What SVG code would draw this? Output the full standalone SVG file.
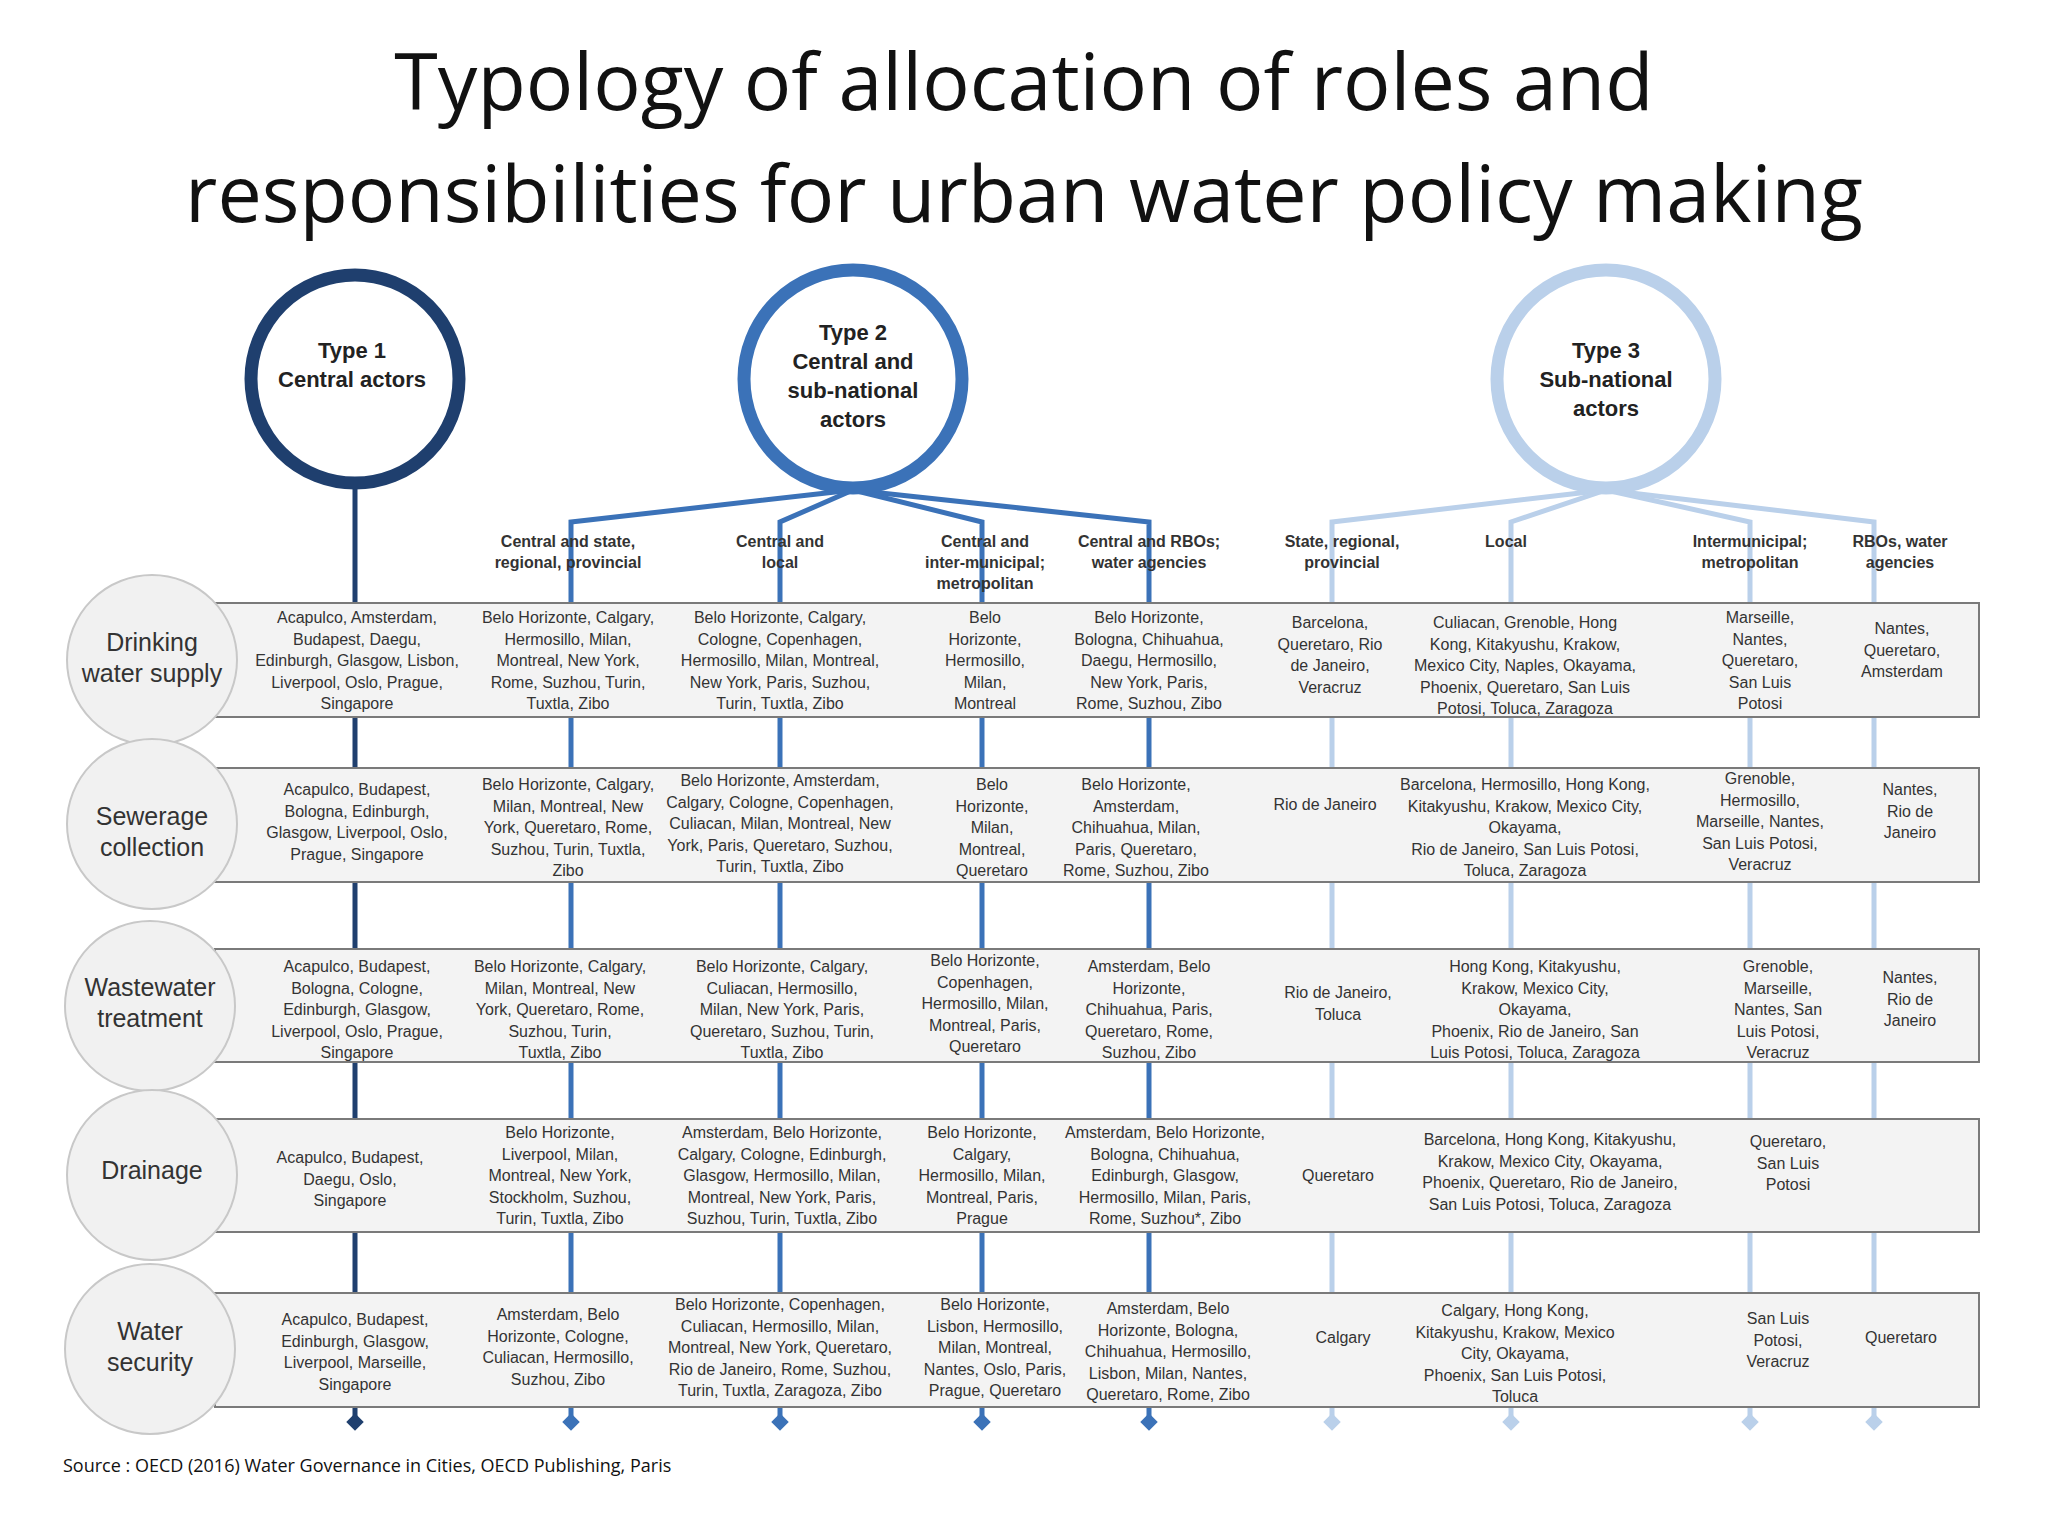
<svg xmlns="http://www.w3.org/2000/svg" width="2048" height="1536" viewBox="0 0 2048 1536">
<defs>
<style>
.title{font-family:"Open Sans","Liberation Sans",sans-serif;font-size:79px;fill:#111;text-anchor:middle}
.tc{font-family:"Liberation Sans",sans-serif;font-weight:bold;font-size:22px;fill:#222;text-anchor:middle}
.hd{font-family:"Liberation Sans Narrow","Liberation Sans",sans-serif;font-weight:bold;font-size:16px;fill:#333;text-anchor:middle}
.c{font-family:"Liberation Sans Narrow","Liberation Sans",sans-serif;font-size:16px;fill:#333;text-anchor:middle}
.rl{font-family:"Liberation Sans",sans-serif;font-size:25px;fill:#333;text-anchor:middle}
.band{fill:#f3f3f3;stroke:#7a7a7a;stroke-width:2}
.rc{fill:#f1f1f1;stroke:#c8c8c8;stroke-width:2}
.l1{stroke:#1f3f6e;stroke-width:5;fill:none}
.l2{stroke:#3b72b8;stroke-width:5;fill:none}
.l3{stroke:#bad0ea;stroke-width:5;fill:none}
</style>
<marker id="d1" viewBox="0 0 10 10" refX="5" refY="5" markerWidth="3.5" markerHeight="3.5" orient="auto"><path d="M5 0L10 5L5 10L0 5Z" fill="#1f3f6e"/></marker>
<marker id="d2" viewBox="0 0 10 10" refX="5" refY="5" markerWidth="3.5" markerHeight="3.5" orient="auto"><path d="M5 0L10 5L5 10L0 5Z" fill="#3b72b8"/></marker>
<marker id="d3" viewBox="0 0 10 10" refX="5" refY="5" markerWidth="3.5" markerHeight="3.5" orient="auto"><path d="M5 0L10 5L5 10L0 5Z" fill="#bad0ea"/></marker>
</defs>
<rect width="2048" height="1536" fill="#fff"/>
<text class="title" x="1024" y="110">Typology of allocation of roles and</text>
<text class="title" x="1024" y="222">responsibilities for urban water policy making</text>

<g id="connectors">
<path class="l1" d="M355 484V1422" marker-end="url(#d1)"/>
<path class="l2" d="M853 490L571 522V1422" marker-end="url(#d2)"/>
<path class="l2" d="M853 490L780 522V1422" marker-end="url(#d2)"/>
<path class="l2" d="M853 490L982 522V1422" marker-end="url(#d2)"/>
<path class="l2" d="M853 490L1149 522V1422" marker-end="url(#d2)"/>
<path class="l3" d="M1606 490L1332 522V1422" marker-end="url(#d3)"/>
<path class="l3" d="M1606 490L1511 522V1422" marker-end="url(#d3)"/>
<path class="l3" d="M1606 490L1750 522V1422" marker-end="url(#d3)"/>
<path class="l3" d="M1606 490L1874 522V1422" marker-end="url(#d3)"/>
</g>

<g id="type1"><circle cx="355" cy="379" r="104" fill="#fff" stroke="#1f3f6e" stroke-width="13"/><text class="tc" x="352" y="358"><tspan x="352">Type 1</tspan><tspan x="352" dy="29">Central actors</tspan></text></g>
<g id="type2"><circle cx="853" cy="379" r="109" fill="#fff" stroke="#3b72b8" stroke-width="13"/><text class="tc" x="853" y="340"><tspan x="853">Type 2</tspan><tspan x="853" dy="29">Central and</tspan><tspan x="853" dy="29">sub-national</tspan><tspan x="853" dy="29">actors</tspan></text></g>
<g id="type3"><circle cx="1606" cy="379" r="109" fill="#fff" stroke="#bad0ea" stroke-width="13"/><text class="tc" x="1606" y="358"><tspan x="1606">Type 3</tspan><tspan x="1606" dy="29">Sub-national</tspan><tspan x="1606" dy="29">actors</tspan></text></g>

<g id="headers">
<text class="hd" y="547"><tspan x="568">Central and state,</tspan><tspan x="568" dy="21">regional, provincial</tspan></text>
<text class="hd" y="547"><tspan x="780">Central and</tspan><tspan x="780" dy="21">local</tspan></text>
<text class="hd" y="547"><tspan x="985">Central and</tspan><tspan x="985" dy="21">inter-municipal;</tspan><tspan x="985" dy="21">metropolitan</tspan></text>
<text class="hd" y="547"><tspan x="1149">Central and RBOs;</tspan><tspan x="1149" dy="21">water agencies</tspan></text>
<text class="hd" y="547"><tspan x="1342">State, regional,</tspan><tspan x="1342" dy="21">provincial</tspan></text>
<text class="hd" y="547"><tspan x="1506">Local</tspan></text>
<text class="hd" y="547"><tspan x="1750">Intermunicipal;</tspan><tspan x="1750" dy="21">metropolitan</tspan></text>
<text class="hd" y="547"><tspan x="1900">RBOs, water</tspan><tspan x="1900" dy="21">agencies</tspan></text>
</g>

<g id="row1">
<rect class="band" x="215" y="603" width="1764" height="114"/>
<circle class="rc" cx="152" cy="660" r="85"/>
<text class="rl" y="651"><tspan x="152">Drinking</tspan><tspan x="152" dy="31">water supply</tspan></text>
<text class="c" y="623"><tspan x="357">Acapulco, Amsterdam,</tspan><tspan x="357" dy="21.5">Budapest, Daegu,</tspan><tspan x="357" dy="21.5">Edinburgh, Glasgow, Lisbon,</tspan><tspan x="357" dy="21.5">Liverpool, Oslo, Prague,</tspan><tspan x="357" dy="21.5">Singapore</tspan></text>
<text class="c" y="623"><tspan x="568">Belo Horizonte, Calgary,</tspan><tspan x="568" dy="21.5">Hermosillo, Milan,</tspan><tspan x="568" dy="21.5">Montreal, New York,</tspan><tspan x="568" dy="21.5">Rome, Suzhou, Turin,</tspan><tspan x="568" dy="21.5">Tuxtla, Zibo</tspan></text>
<text class="c" y="623"><tspan x="780">Belo Horizonte, Calgary,</tspan><tspan x="780" dy="21.5">Cologne, Copenhagen,</tspan><tspan x="780" dy="21.5">Hermosillo, Milan, Montreal,</tspan><tspan x="780" dy="21.5">New York, Paris, Suzhou,</tspan><tspan x="780" dy="21.5">Turin, Tuxtla, Zibo</tspan></text>
<text class="c" y="623"><tspan x="985">Belo</tspan><tspan x="985" dy="21.5">Horizonte,</tspan><tspan x="985" dy="21.5">Hermosillo,</tspan><tspan x="985" dy="21.5">Milan,</tspan><tspan x="985" dy="21.5">Montreal</tspan></text>
<text class="c" y="623"><tspan x="1149">Belo Horizonte,</tspan><tspan x="1149" dy="21.5">Bologna, Chihuahua,</tspan><tspan x="1149" dy="21.5">Daegu, Hermosillo,</tspan><tspan x="1149" dy="21.5">New York, Paris,</tspan><tspan x="1149" dy="21.5">Rome, Suzhou, Zibo</tspan></text>
<text class="c" y="628"><tspan x="1330">Barcelona,</tspan><tspan x="1330" dy="21.5">Queretaro, Rio</tspan><tspan x="1330" dy="21.5">de Janeiro,</tspan><tspan x="1330" dy="21.5">Veracruz</tspan></text>
<text class="c" y="628"><tspan x="1525">Culiacan, Grenoble, Hong</tspan><tspan x="1525" dy="21.5">Kong, Kitakyushu, Krakow,</tspan><tspan x="1525" dy="21.5">Mexico City, Naples, Okayama,</tspan><tspan x="1525" dy="21.5">Phoenix, Queretaro, San Luis</tspan><tspan x="1525" dy="21.5">Potosi, Toluca, Zaragoza</tspan></text>
<text class="c" y="623"><tspan x="1760">Marseille,</tspan><tspan x="1760" dy="21.5">Nantes,</tspan><tspan x="1760" dy="21.5">Queretaro,</tspan><tspan x="1760" dy="21.5">San Luis</tspan><tspan x="1760" dy="21.5">Potosi</tspan></text>
<text class="c" y="634"><tspan x="1902">Nantes,</tspan><tspan x="1902" dy="21.5">Queretaro,</tspan><tspan x="1902" dy="21.5">Amsterdam</tspan></text>
</g>

<g id="row2">
<rect class="band" x="215" y="768" width="1764" height="114"/>
<circle class="rc" cx="152" cy="824" r="85"/>
<text class="rl" y="825"><tspan x="152">Sewerage</tspan><tspan x="152" dy="31">collection</tspan></text>
<text class="c" y="795"><tspan x="357">Acapulco, Budapest,</tspan><tspan x="357" dy="21.5">Bologna, Edinburgh,</tspan><tspan x="357" dy="21.5">Glasgow, Liverpool, Oslo,</tspan><tspan x="357" dy="21.5">Prague, Singapore</tspan></text>
<text class="c" y="790"><tspan x="568">Belo Horizonte, Calgary,</tspan><tspan x="568" dy="21.5">Milan, Montreal, New</tspan><tspan x="568" dy="21.5">York, Queretaro, Rome,</tspan><tspan x="568" dy="21.5">Suzhou, Turin, Tuxtla,</tspan><tspan x="568" dy="21.5">Zibo</tspan></text>
<text class="c" y="786"><tspan x="780">Belo Horizonte, Amsterdam,</tspan><tspan x="780" dy="21.5">Calgary, Cologne, Copenhagen,</tspan><tspan x="780" dy="21.5">Culiacan, Milan, Montreal, New</tspan><tspan x="780" dy="21.5">York, Paris, Queretaro, Suzhou,</tspan><tspan x="780" dy="21.5">Turin, Tuxtla, Zibo</tspan></text>
<text class="c" y="790"><tspan x="992">Belo</tspan><tspan x="992" dy="21.5">Horizonte,</tspan><tspan x="992" dy="21.5">Milan,</tspan><tspan x="992" dy="21.5">Montreal,</tspan><tspan x="992" dy="21.5">Queretaro</tspan></text>
<text class="c" y="790"><tspan x="1136">Belo Horizonte,</tspan><tspan x="1136" dy="21.5">Amsterdam,</tspan><tspan x="1136" dy="21.5">Chihuahua, Milan,</tspan><tspan x="1136" dy="21.5">Paris, Queretaro,</tspan><tspan x="1136" dy="21.5">Rome, Suzhou, Zibo</tspan></text>
<text class="c" y="810"><tspan x="1325">Rio de Janeiro</tspan></text>
<text class="c" y="790"><tspan x="1525">Barcelona, Hermosillo, Hong Kong,</tspan><tspan x="1525" dy="21.5">Kitakyushu, Krakow, Mexico City,</tspan><tspan x="1525" dy="21.5">Okayama,</tspan><tspan x="1525" dy="21.5">Rio de Janeiro, San Luis Potosi,</tspan><tspan x="1525" dy="21.5">Toluca, Zaragoza</tspan></text>
<text class="c" y="784"><tspan x="1760">Grenoble,</tspan><tspan x="1760" dy="21.5">Hermosillo,</tspan><tspan x="1760" dy="21.5">Marseille, Nantes,</tspan><tspan x="1760" dy="21.5">San Luis Potosi,</tspan><tspan x="1760" dy="21.5">Veracruz</tspan></text>
<text class="c" y="795"><tspan x="1910">Nantes,</tspan><tspan x="1910" dy="21.5">Rio de</tspan><tspan x="1910" dy="21.5">Janeiro</tspan></text>
</g>

<g id="row3">
<rect class="band" x="215" y="949" width="1764" height="113"/>
<circle class="rc" cx="150" cy="1006" r="85"/>
<text class="rl" y="996"><tspan x="150">Wastewater</tspan><tspan x="150" dy="31">treatment</tspan></text>
<text class="c" y="972"><tspan x="357">Acapulco, Budapest,</tspan><tspan x="357" dy="21.5">Bologna, Cologne,</tspan><tspan x="357" dy="21.5">Edinburgh, Glasgow,</tspan><tspan x="357" dy="21.5">Liverpool, Oslo, Prague,</tspan><tspan x="357" dy="21.5">Singapore</tspan></text>
<text class="c" y="972"><tspan x="560">Belo Horizonte, Calgary,</tspan><tspan x="560" dy="21.5">Milan, Montreal, New</tspan><tspan x="560" dy="21.5">York, Queretaro, Rome,</tspan><tspan x="560" dy="21.5">Suzhou, Turin,</tspan><tspan x="560" dy="21.5">Tuxtla, Zibo</tspan></text>
<text class="c" y="972"><tspan x="782">Belo Horizonte, Calgary,</tspan><tspan x="782" dy="21.5">Culiacan, Hermosillo,</tspan><tspan x="782" dy="21.5">Milan, New York, Paris,</tspan><tspan x="782" dy="21.5">Queretaro, Suzhou, Turin,</tspan><tspan x="782" dy="21.5">Tuxtla, Zibo</tspan></text>
<text class="c" y="966"><tspan x="985">Belo Horizonte,</tspan><tspan x="985" dy="21.5">Copenhagen,</tspan><tspan x="985" dy="21.5">Hermosillo, Milan,</tspan><tspan x="985" dy="21.5">Montreal, Paris,</tspan><tspan x="985" dy="21.5">Queretaro</tspan></text>
<text class="c" y="972"><tspan x="1149">Amsterdam, Belo</tspan><tspan x="1149" dy="21.5">Horizonte,</tspan><tspan x="1149" dy="21.5">Chihuahua, Paris,</tspan><tspan x="1149" dy="21.5">Queretaro, Rome,</tspan><tspan x="1149" dy="21.5">Suzhou, Zibo</tspan></text>
<text class="c" y="998"><tspan x="1338">Rio de Janeiro,</tspan><tspan x="1338" dy="21.5">Toluca</tspan></text>
<text class="c" y="972"><tspan x="1535">Hong Kong, Kitakyushu,</tspan><tspan x="1535" dy="21.5">Krakow, Mexico City,</tspan><tspan x="1535" dy="21.5">Okayama,</tspan><tspan x="1535" dy="21.5">Phoenix, Rio de Janeiro, San</tspan><tspan x="1535" dy="21.5">Luis Potosi, Toluca, Zaragoza</tspan></text>
<text class="c" y="972"><tspan x="1778">Grenoble,</tspan><tspan x="1778" dy="21.5">Marseille,</tspan><tspan x="1778" dy="21.5">Nantes, San</tspan><tspan x="1778" dy="21.5">Luis Potosi,</tspan><tspan x="1778" dy="21.5">Veracruz</tspan></text>
<text class="c" y="983"><tspan x="1910">Nantes,</tspan><tspan x="1910" dy="21.5">Rio de</tspan><tspan x="1910" dy="21.5">Janeiro</tspan></text>
</g>

<g id="row4">
<rect class="band" x="215" y="1119" width="1764" height="113"/>
<circle class="rc" cx="152" cy="1175" r="85"/>
<text class="rl" y="1179"><tspan x="152">Drainage</tspan></text>
<text class="c" y="1163"><tspan x="350">Acapulco, Budapest,</tspan><tspan x="350" dy="21.5">Daegu, Oslo,</tspan><tspan x="350" dy="21.5">Singapore</tspan></text>
<text class="c" y="1138"><tspan x="560">Belo Horizonte,</tspan><tspan x="560" dy="21.5">Liverpool, Milan,</tspan><tspan x="560" dy="21.5">Montreal, New York,</tspan><tspan x="560" dy="21.5">Stockholm, Suzhou,</tspan><tspan x="560" dy="21.5">Turin, Tuxtla, Zibo</tspan></text>
<text class="c" y="1138"><tspan x="782">Amsterdam, Belo Horizonte,</tspan><tspan x="782" dy="21.5">Calgary, Cologne, Edinburgh,</tspan><tspan x="782" dy="21.5">Glasgow, Hermosillo, Milan,</tspan><tspan x="782" dy="21.5">Montreal, New York, Paris,</tspan><tspan x="782" dy="21.5">Suzhou, Turin, Tuxtla, Zibo</tspan></text>
<text class="c" y="1138"><tspan x="982">Belo Horizonte,</tspan><tspan x="982" dy="21.5">Calgary,</tspan><tspan x="982" dy="21.5">Hermosillo, Milan,</tspan><tspan x="982" dy="21.5">Montreal, Paris,</tspan><tspan x="982" dy="21.5">Prague</tspan></text>
<text class="c" y="1138"><tspan x="1165">Amsterdam, Belo Horizonte,</tspan><tspan x="1165" dy="21.5">Bologna, Chihuahua,</tspan><tspan x="1165" dy="21.5">Edinburgh, Glasgow,</tspan><tspan x="1165" dy="21.5">Hermosillo, Milan, Paris,</tspan><tspan x="1165" dy="21.5">Rome, Suzhou*, Zibo</tspan></text>
<text class="c" y="1181"><tspan x="1338">Queretaro</tspan></text>
<text class="c" y="1145"><tspan x="1550">Barcelona, Hong Kong, Kitakyushu,</tspan><tspan x="1550" dy="21.5">Krakow, Mexico City, Okayama,</tspan><tspan x="1550" dy="21.5">Phoenix, Queretaro, Rio de Janeiro,</tspan><tspan x="1550" dy="21.5">San Luis Potosi, Toluca, Zaragoza</tspan></text>
<text class="c" y="1147"><tspan x="1788">Queretaro,</tspan><tspan x="1788" dy="21.5">San Luis</tspan><tspan x="1788" dy="21.5">Potosi</tspan></text>
</g>

<g id="row5">
<rect class="band" x="215" y="1293" width="1764" height="114"/>
<circle class="rc" cx="150" cy="1349" r="85"/>
<text class="rl" y="1340"><tspan x="150">Water</tspan><tspan x="150" dy="31">security</tspan></text>
<text class="c" y="1325"><tspan x="355">Acapulco, Budapest,</tspan><tspan x="355" dy="21.5">Edinburgh, Glasgow,</tspan><tspan x="355" dy="21.5">Liverpool, Marseille,</tspan><tspan x="355" dy="21.5">Singapore</tspan></text>
<text class="c" y="1320"><tspan x="558">Amsterdam, Belo</tspan><tspan x="558" dy="21.5">Horizonte, Cologne,</tspan><tspan x="558" dy="21.5">Culiacan, Hermosillo,</tspan><tspan x="558" dy="21.5">Suzhou, Zibo</tspan></text>
<text class="c" y="1310"><tspan x="780">Belo Horizonte, Copenhagen,</tspan><tspan x="780" dy="21.5">Culiacan, Hermosillo, Milan,</tspan><tspan x="780" dy="21.5">Montreal, New York, Queretaro,</tspan><tspan x="780" dy="21.5">Rio de Janeiro, Rome, Suzhou,</tspan><tspan x="780" dy="21.5">Turin, Tuxtla, Zaragoza, Zibo</tspan></text>
<text class="c" y="1310"><tspan x="995">Belo Horizonte,</tspan><tspan x="995" dy="21.5">Lisbon, Hermosillo,</tspan><tspan x="995" dy="21.5">Milan, Montreal,</tspan><tspan x="995" dy="21.5">Nantes, Oslo, Paris,</tspan><tspan x="995" dy="21.5">Prague, Queretaro</tspan></text>
<text class="c" y="1314"><tspan x="1168">Amsterdam, Belo</tspan><tspan x="1168" dy="21.5">Horizonte, Bologna,</tspan><tspan x="1168" dy="21.5">Chihuahua, Hermosillo,</tspan><tspan x="1168" dy="21.5">Lisbon, Milan, Nantes,</tspan><tspan x="1168" dy="21.5">Queretaro, Rome, Zibo</tspan></text>
<text class="c" y="1343"><tspan x="1343">Calgary</tspan></text>
<text class="c" y="1316"><tspan x="1515">Calgary, Hong Kong,</tspan><tspan x="1515" dy="21.5">Kitakyushu, Krakow, Mexico</tspan><tspan x="1515" dy="21.5">City, Okayama,</tspan><tspan x="1515" dy="21.5">Phoenix, San Luis Potosi,</tspan><tspan x="1515" dy="21.5">Toluca</tspan></text>
<text class="c" y="1324"><tspan x="1778">San Luis</tspan><tspan x="1778" dy="21.5">Potosi,</tspan><tspan x="1778" dy="21.5">Veracruz</tspan></text>
<text class="c" y="1343"><tspan x="1901">Queretaro</tspan></text>
</g>

<text x="63" y="1472" font-family="'Open Sans','Liberation Sans',sans-serif" font-size="18" fill="#111">Source : OECD (2016) Water Governance in Cities, OECD Publishing, Paris</text>
</svg>
